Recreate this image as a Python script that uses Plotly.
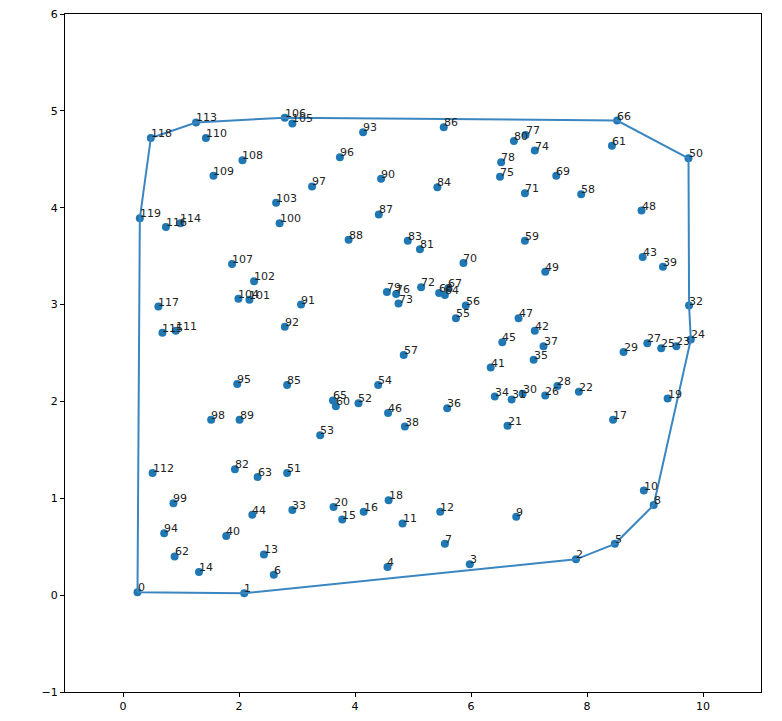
import plotly.graph_objects as go

# Punktkoordinater (lest av figuren), indeks = punktnummer
xs = [0.25, 2.09, 7.81, 5.98, 4.56, 8.48, 2.60, 5.55, 9.15, 6.78,
      8.98, 4.82, 5.47, 2.43, 1.31, 3.78, 4.15, 8.45, 4.58, 9.39,
      3.63, 6.63, 7.86, 9.54, 9.79, 9.28, 7.28, 9.04, 7.49, 8.63,
      6.89, 6.70, 9.76, 2.92, 6.41, 7.08, 5.59, 7.25, 4.86, 9.31,
      1.78, 6.34, 7.10, 8.96, 2.23, 6.54, 4.57, 6.82, 8.94, 7.28,
      9.75, 2.83, 4.06, 3.40, 4.40, 5.74, 5.91, 4.84, 7.90, 6.93,
      3.67, 8.43, 0.89, 2.32, 5.55, 3.62, 8.52, 5.61, 5.45, 7.47,
      5.87, 6.93, 5.14, 4.75, 7.10, 6.50, 4.71, 6.94, 6.52, 4.55,
      6.74, 5.12, 1.93, 4.91, 5.42, 2.83, 5.53, 4.41, 3.89, 2.01,
      4.45, 3.07, 2.79, 4.14, 0.71, 1.97, 3.74, 3.26, 1.52, 0.87,
      2.70, 2.18, 2.26, 2.64, 1.99, 2.92, 2.79, 1.88, 2.06, 1.56,
      1.43, 0.91, 0.51, 1.26, 0.99, 0.68, 0.74, 0.61, 0.48, 0.29]
ys = [0.03, 0.02, 0.37, 0.32, 0.29, 0.53, 0.21, 0.53, 0.93, 0.81,
      1.08, 0.74, 0.86, 0.42, 0.24, 0.78, 0.86, 1.81, 0.98, 2.03,
      0.91, 1.75, 2.10, 2.57, 2.64, 2.55, 2.06, 2.60, 2.16, 2.51,
      2.08, 2.02, 2.99, 0.88, 2.05, 2.43, 1.93, 2.57, 1.74, 3.39,
      0.61, 2.35, 2.73, 3.49, 0.83, 2.61, 1.88, 2.86, 3.97, 3.34,
      4.51, 1.26, 1.98, 1.65, 2.17, 2.86, 2.99, 2.48, 4.14, 3.66,
      1.95, 4.64, 0.40, 1.22, 3.10, 2.01, 4.90, 3.17, 3.12, 4.33,
      3.43, 4.15, 3.18, 3.01, 4.59, 4.32, 3.11, 4.75, 4.47, 3.13,
      4.69, 3.57, 1.30, 3.66, 4.21, 2.17, 4.83, 3.93, 3.67, 1.81,
      4.30, 3.00, 2.77, 4.78, 0.64, 2.18, 4.52, 4.22, 1.81, 0.95,
      3.84, 3.05, 3.24, 4.05, 3.06, 4.87, 4.93, 3.42, 4.49, 4.33,
      4.72, 2.73, 1.26, 4.88, 3.84, 2.71, 3.80, 2.98, 4.72, 3.89]

# Hjørnene i det konvekse skallet
hull_idx = [0, 1, 2, 5, 8, 24, 32, 50, 66, 106, 113, 118, 119, 0]

x_ticks = [0, 2, 4, 6, 8, 10]
y_ticks = [-1, 0, 1, 2, 3, 4, 5, 6]

fig = go.Figure()

# Punkter
fig.add_trace(go.Scatter(
    x=xs, y=ys, mode="markers",
    marker=dict(color="#1f77b4", size=8),
    showlegend=False, hoverinfo="skip"
))

# Skall
fig.add_trace(go.Scatter(
    x=[xs[i] for i in hull_idx], y=[ys[i] for i in hull_idx],
    mode="lines", line=dict(color="#3a86c1", width=2),
    showlegend=False, hoverinfo="skip"
))

# Nummer ved hvert punkt
for i, (x, y) in enumerate(zip(xs, ys)):
    fig.add_annotation(
        x=x, y=y, text=str(i), showarrow=False,
        xanchor="left", yanchor="bottom", xshift=-2, yshift=-4,
        font=dict(family="DejaVu Sans", size=11, color="#222")
    )

axis_style = dict(
    showgrid=False, zeroline=False, showline=True, linecolor="black",
    linewidth=1, mirror=True, ticks="outside", ticklen=4, tickwidth=1,
    tickcolor="black", automargin=False, ticklabeloverflow="allow",
    tickfont=dict(family="DejaVu Sans", size=11, color="black")
)

# siden har 8 px marg rundt figuren, så figuren gjøres litt mindre
fig.update_layout(
    width=766, height=705,
    plot_bgcolor="white", paper_bgcolor="white",
    margin=dict(l=57, r=13, t=6, b=21),
    xaxis=dict(range=[-1, 11], tickvals=x_ticks, **axis_style),
    yaxis=dict(range=[-1, 6], tickvals=y_ticks, **axis_style),
)

fig.write_html("out.html")
